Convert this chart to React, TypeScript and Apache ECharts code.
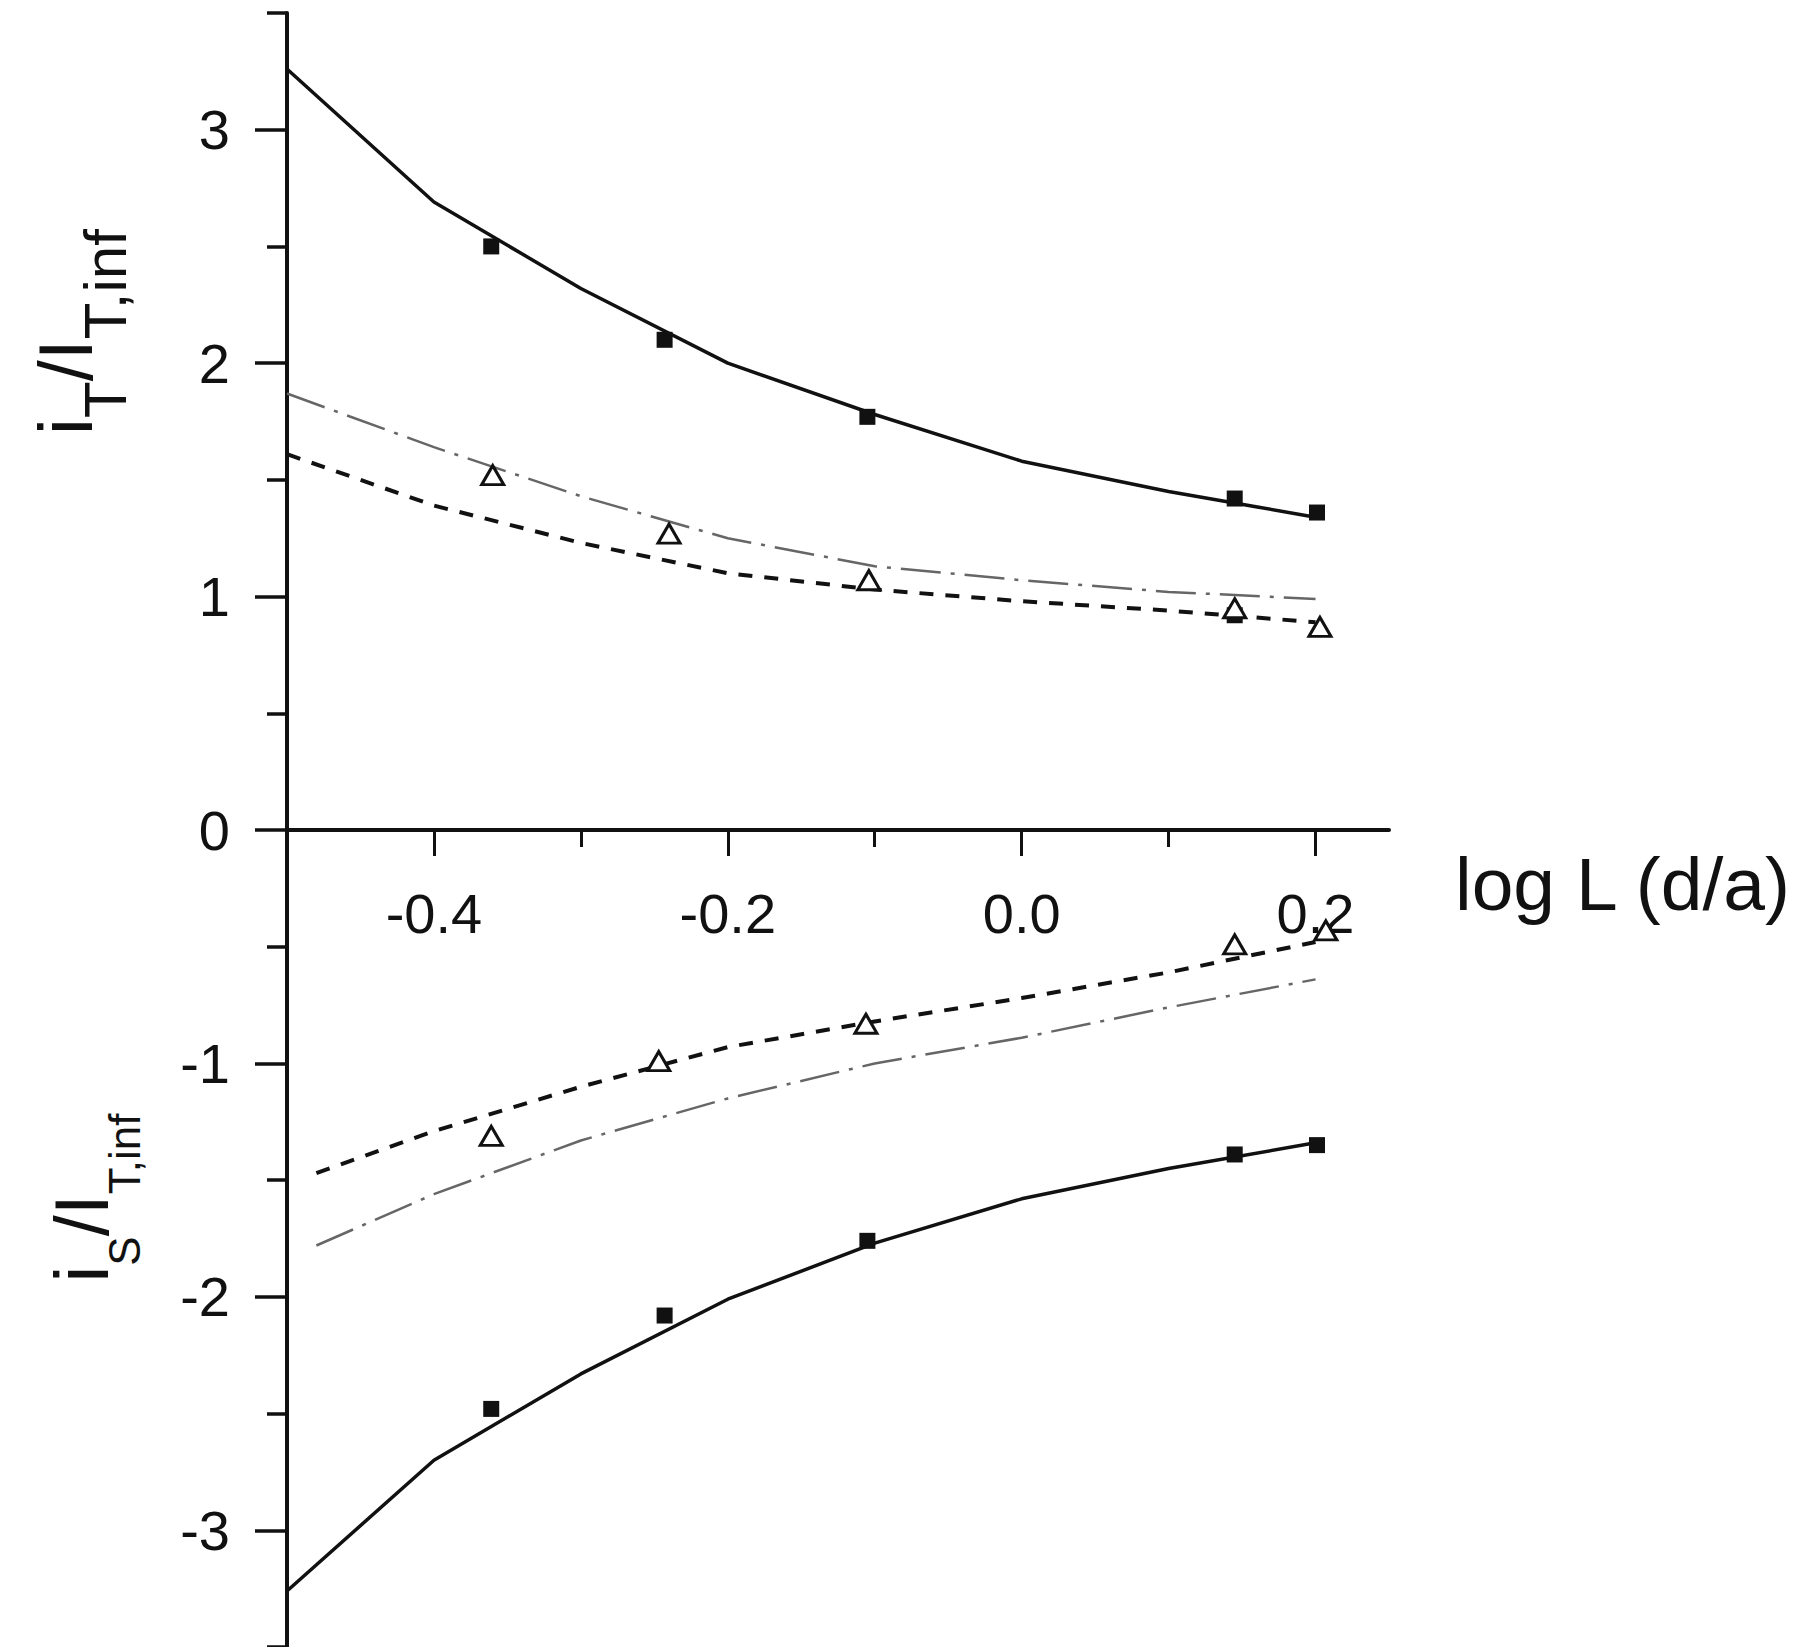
import React, { useEffect, useRef } from "react";
import * as echarts from "echarts";

// ---- data ----
const fitX = [-0.5, -0.4, -0.3, -0.2, -0.1, 0, 0.1, 0.2];
const upperSolid = [3.26, 2.69, 2.32, 2.0, 1.78, 1.58, 1.45, 1.34];
const upperDashDot = [1.87, 1.64, 1.43, 1.25, 1.13, 1.07, 1.02, 0.99];
const upperShortDash = [1.61, 1.39, 1.23, 1.1, 1.03, 0.98, 0.94, 0.89];

const lowerSolid = [-3.26, -2.7, -2.33, -2.01, -1.77, -1.58, -1.45, -1.34];
const lowerDashX = [-0.48, -0.4, -0.3, -0.2, -0.1, 0, 0.1, 0.2];
const lowerDashDot = [-1.78, -1.56, -1.33, -1.15, -1.0, -0.89, -0.76, -0.64];
const lowerShortDash = [-1.47, -1.29, -1.1, -0.93, -0.82, -0.72, -0.61, -0.48];

const squareX = [-0.361, -0.243, -0.105, 0.145, 0.201];
const squareUpperY = [2.5, 2.1, 1.77, 1.42, 1.36];
const squareLowerY = [-2.48, -2.08, -1.76, -1.39, -1.35];

const triUpperX = [-0.36, -0.24, -0.104, 0.145, 0.203];
const triUpperY = [1.52, 1.27, 1.07, 0.95, 0.87];
const triLowerX = [-0.361, -0.247, -0.106, 0.145, 0.207];
const triLowerY = [-1.31, -0.99, -0.83, -0.49, -0.43];

const extraSquareX = [0.145];
const extraSquareY = [0.92];

const xMajorTicks = [-0.4, -0.2, 0, 0.2];
const xMinorTicks = [-0.3, -0.1, 0.1];
const yMajorTicks = [-3, -2, -1, 0, 1, 2, 3];
const yMinorTicks = [-3.5, -2.5, -1.5, -0.5, 0.5, 1.5, 2.5, 3.5];

const xTitle = "log L (d/a)";
const upperTitle = "{b|i}{s|T}{b|/I}{s|T,inf}";
const lowerTitle = "{b|i}{s|S}{b|/I}{s|T,inf}";

const INK = "#111";
const SANS = "'Liberation Sans', Arial, sans-serif";
const NARROW = "'Liberation Sans Narrow', 'Liberation Sans', Arial, sans-serif";

// layout
const W = 1800;
const H = 1647;
const GRID_TOP = 13;
const GRID_BOTTOM = 0;
const Y_MIN = -3.5;
const Y_MAX = 3.5;
// x axis drawn at y = 0: shift it up from the grid's bottom edge
const X_AXIS_OFFSET = -((H - GRID_TOP - GRID_BOTTOM) * (0 - Y_MIN)) / (Y_MAX - Y_MIN);

const pairs = (xs: number[], ys: number[]) => xs.map((x, i) => [x, ys[i]]);

export default function App() {
  const ref = useRef<HTMLDivElement | null>(null);

  useEffect(() => {
    document.body.style.margin = "0";
    if (!ref.current) return;
    const chart = echarts.init(ref.current, undefined, { renderer: "svg" });

    const fitLine = (data: number[][], lineStyle: any) => ({
      type: "line",
      data,
      symbol: "none",
      showSymbol: false,
      smooth: false,
      lineStyle,
      z: 2,
    });

    const option: any = {
      animation: false,
      backgroundColor: "#fff",
      grid: { left: 287, right: 411, top: GRID_TOP, bottom: GRID_BOTTOM, outerBoundsMode: "none" },
      xAxis: [
        {
          type: "value",
          min: -0.5,
          max: 0.25,
          position: "bottom",
          offset: X_AXIS_OFFSET,
          axisLine: { show: true, onZero: false, lineStyle: { color: INK, width: 4 } },
          axisTick: { show: true, inside: false, length: 26, customValues: xMajorTicks, lineStyle: { color: INK, width: 3 } },
          axisLabel: {
            show: true,
            customValues: xMajorTicks,
            formatter: (v: number) => v.toFixed(1),
            margin: 55,
            fontSize: 56,
            fontFamily: NARROW,
            color: INK,
          },
          splitLine: { show: false },
        },
        {
          type: "value",
          min: -0.5,
          max: 0.25,
          position: "bottom",
          offset: X_AXIS_OFFSET,
          axisLine: { show: false, onZero: false },
          axisTick: { show: true, inside: false, length: 17, customValues: xMinorTicks, lineStyle: { color: INK, width: 3 } },
          axisLabel: { show: false },
          splitLine: { show: false },
        },
      ],
      yAxis: [
        {
          type: "value",
          min: Y_MIN,
          max: Y_MAX,
          position: "left",
          axisLine: { show: true, onZero: false, lineStyle: { color: INK, width: 4 } },
          axisTick: { show: true, inside: false, length: 32, customValues: yMajorTicks, lineStyle: { color: INK, width: 3.5 } },
          axisLabel: {
            show: true,
            customValues: yMajorTicks,
            formatter: (v: number) => String(v),
            margin: 57,
            fontSize: 56,
            fontFamily: SANS,
            color: INK,
          },
          splitLine: { show: false },
        },
        {
          type: "value",
          min: Y_MIN,
          max: Y_MAX,
          position: "left",
          axisLine: { show: false, onZero: false },
          axisTick: { show: true, inside: false, length: 20, customValues: yMinorTicks, lineStyle: { color: INK, width: 3.5 } },
          axisLabel: { show: false },
          splitLine: { show: false },
        },
      ],
      series: [
        fitLine(pairs(fitX, upperSolid), { color: INK, width: 3.5, type: "solid" }),
        fitLine(pairs(fitX, upperDashDot), { color: "#666", width: 2.5, type: [40, 10, 4, 10] }),
        fitLine(pairs(fitX, upperShortDash), { color: INK, width: 4, type: [14, 12] }),
        fitLine(pairs(fitX, lowerSolid), { color: INK, width: 3.5, type: "solid" }),
        fitLine(pairs(lowerDashX, lowerDashDot), { color: "#666", width: 2.5, type: [40, 10, 4, 10] }),
        fitLine(pairs(lowerDashX, lowerShortDash), { color: INK, width: 4, type: [14, 12] }),
        {
          type: "scatter",
          data: [...pairs(squareX, squareUpperY), ...pairs(squareX, squareLowerY), ...pairs(extraSquareX, extraSquareY)],
          symbol: "rect",
          symbolSize: 16,
          itemStyle: { color: INK, opacity: 1 },
          z: 3,
        },
        {
          type: "scatter",
          data: [...pairs(triUpperX, triUpperY), ...pairs(triLowerX, triLowerY)],
          symbol: "triangle",
          symbolSize: [22, 19],
          itemStyle: { color: "#fff", borderColor: INK, borderWidth: 3, opacity: 1 },
          z: 4,
        },
      ],
      graphic: [
        {
          type: "text",
          x: 1455,
          y: 884,
          style: { text: xTitle, fontSize: 75, fontFamily: SANS, fill: INK, align: "left", verticalAlign: "middle" },
        },
        {
          type: "text",
          x: 65,
          y: 332,
          rotation: Math.PI / 2,
          style: {
            text: upperTitle,
            align: "center",
            verticalAlign: "middle",
            fill: INK,
            fontFamily: SANS,
            rich: {
              b: { fontSize: 76, lineHeight: 76, fontFamily: SANS, fill: INK, verticalAlign: "top" },
              s: { fontSize: 60, lineHeight: 60, fontFamily: SANS, fill: INK, verticalAlign: "top", padding: [48, 0, 0, 0] },
            },
          },
        },
        {
          type: "text",
          x: 81,
          y: 1198,
          rotation: Math.PI / 2,
          style: {
            text: lowerTitle,
            align: "center",
            verticalAlign: "middle",
            fill: INK,
            fontFamily: SANS,
            rich: {
              b: { fontSize: 76, lineHeight: 76, fontFamily: SANS, fill: INK, verticalAlign: "top" },
              s: { fontSize: 44, lineHeight: 44, fontFamily: SANS, fill: INK, verticalAlign: "top", padding: [59, 0, 0, 0] },
            },
          },
        },
      ],
    };

    chart.setOption(option);
    return () => chart.dispose();
  }, []);

  return (
    <div
      ref={ref}
      style={{ position: "absolute", left: 0, top: 0, width: W, height: H, background: "#fff" }}
    />
  );
}
